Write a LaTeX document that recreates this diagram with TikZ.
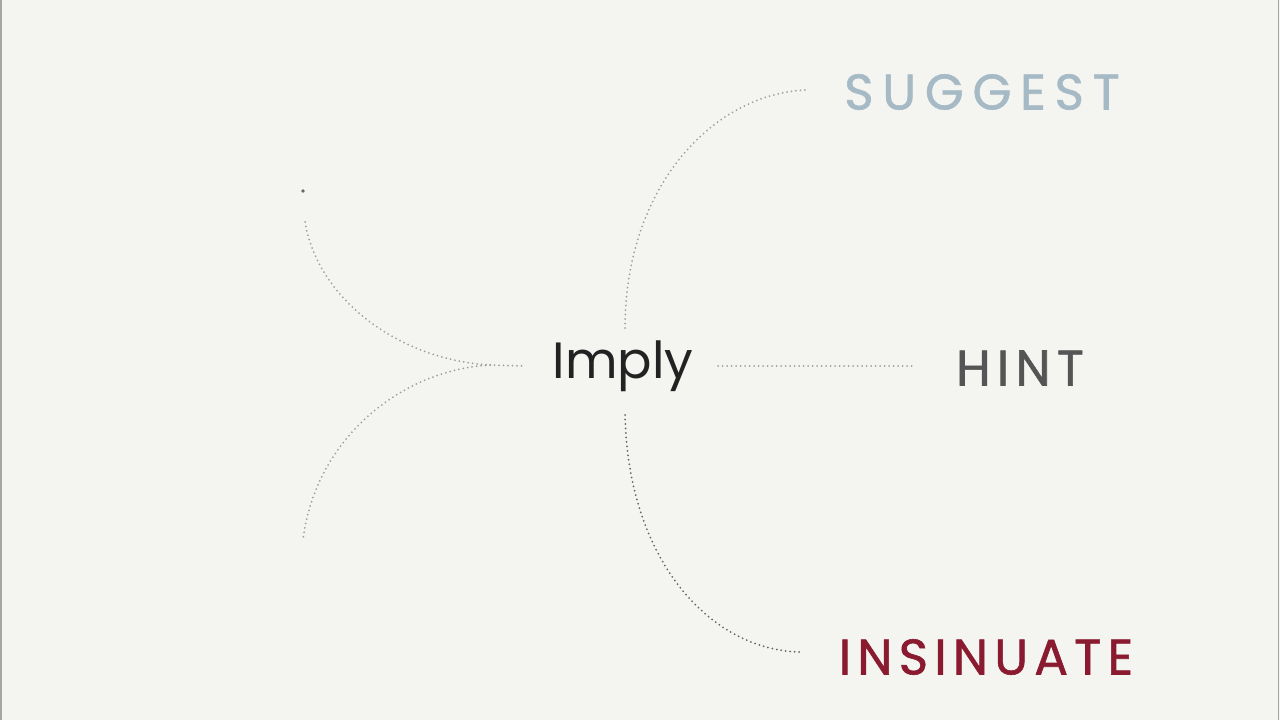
\documentclass[tikz,border=0pt]{standalone}
\usepackage{fontspec}
\setmainfont{Poppins}
\newfontfamily\wordfont[LetterSpace=17.5, FakeBold=1.2]{Poppins}
\newfontfamily\wordfontnarrow[LetterSpace=12.5, FakeBold=1.2]{Poppins}
\definecolor{bgc}{HTML}{F4F4F0}
\definecolor{sugc}{HTML}{A6BAC6}
\definecolor{hintc}{HTML}{555555}
\definecolor{insc}{HTML}{8A1A30}
\definecolor{implyc}{HTML}{222222}
\definecolor{dotlight}{HTML}{A0A0A0}
\definecolor{dotdark}{HTML}{666666}
\tikzset{
  word/.style={font=\wordfont\fontsize{50}{60}\selectfont, inner sep=0pt, anchor=center},
  wordnarrow/.style={font=\wordfontnarrow\fontsize{50}{60}\selectfont, inner sep=0pt, anchor=center},
  dotline/.style={draw=dotlight, line width=2pt, line cap=round, dash pattern=on 0pt off 4.5pt},
  dotdarkline/.style={dotline, draw=dotdark},
}
\begin{document}
\begin{tikzpicture}[x=1pt,y=-1pt]
\fill[bgc] (0,0) rectangle (1280,720);
\useasboundingbox (0,0) rectangle (1280,720);
\draw[gray!70, line width=1.5pt] (1,0) -- (1,720);
\draw[gray!70, line width=1.5pt] (1278.5,0) -- (1278.5,720);

\node[font=\fontsize{51}{60}\selectfont, text=implyc, inner sep=0pt] (imply) at (623,366) {Imply};
\node[word, text=sugc] (suggest) at (982,92) {SUGGEST};
\node[wordnarrow, text=hintc] (hint) at (1020,368) {HINT};
\node[wordnarrow, text=insc] (insinuate) at (986,657) {INSINUATE};

\coordinate (join) at (490,365);
\coordinate (lefttop) at (305,222);
\coordinate (leftbot) at (303,540);
\coordinate (ltip) at (525,366);
\coordinate (rtop) at (625,328);
\coordinate (rbot) at (625,415);
\coordinate (hstart) at (718,366);
\coordinate (hend) at (915,366);
\coordinate (sugend) at (805,90);
\coordinate (insend) at (800,652);

\fill[dotdark] (303,191) circle (1.8pt);
\draw[dotline] (lefttop) .. controls (318,300) and (400,360) .. (join);
\draw[dotline] (join) .. controls (400,370) and (315,440) .. (leftbot);
\draw[dotline] (join) -- (ltip);
\draw[dotline] (hstart) -- (hend);
\draw[dotline] (rtop) .. controls (625,190) and (710,95) .. (sugend);
\draw[dotdarkline] (rbot) .. controls (628,560) and (710,650) .. (insend);
\end{tikzpicture}
\end{document}
